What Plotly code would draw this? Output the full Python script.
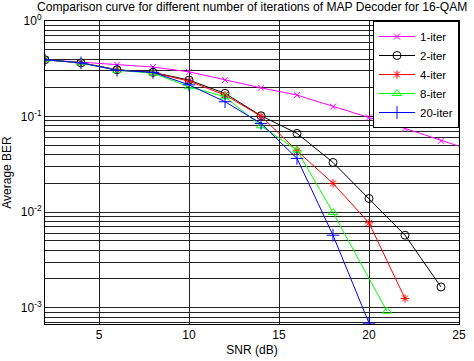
import plotly.graph_objects as go

snr_1 = [2, 4, 6, 8, 10, 12, 14, 16, 18, 20, 22, 24, 26]
ber_1 = [0.393, 0.37, 0.349, 0.33, 0.294, 0.241, 0.200, 0.168, 0.127, 0.0977, 0.0752, 0.0558, 0.0425]

snr_2 = [2, 4, 6, 8, 10, 12, 14, 16, 18, 20, 22, 24]
ber_2 = [0.393, 0.365, 0.309, 0.29, 0.241, 0.175, 0.102, 0.0667, 0.0331, 0.0139, 0.00574, 0.00165]

snr_4 = [2, 4, 6, 8, 10, 12, 14, 16, 18, 20, 22]
ber_4 = [0.393, 0.365, 0.308, 0.288, 0.235, 0.168, 0.101, 0.0439, 0.020, 0.00773, 0.00125]

snr_8 = [2, 4, 6, 8, 10, 12, 14, 16, 18, 21]
ber_8 = [0.393, 0.365, 0.305, 0.285, 0.205, 0.161, 0.080, 0.0446, 0.0099, 0.00092]

snr_20 = [2, 4, 6, 8, 10, 12, 14, 16, 18, 20]
ber_20 = [0.393, 0.365, 0.305, 0.29, 0.215, 0.143, 0.0848, 0.0365, 0.00574, 0.00069]

names = ["1-iter", "2-iter", "4-iter", "8-iter", "20-iter"]
colors = ["#ff00ff", "#000000", "#ff0000", "#00ff00", "#0000ff"]
symbols = ["x-thin-open", "circle-open", "asterisk-open", "triangle-up-open", "cross-thin-open"]
sizes = [6, 8, 7, 8, 9]

x_ticks = [5, 10, 15, 20, 25]
y_ticks = [1e-3, 1e-2, 1e-1, 1]
y_tick_text = ["10<sup>-3</sup>", "10<sup>-2</sup>", "10<sup>-1</sup>", "10<sup>0</sup>"]
minor_y = [m * 10 ** e for e in (-4, -3, -2, -1) for m in range(2, 10)]

series = [(snr_1, ber_1), (snr_2, ber_2), (snr_4, ber_4), (snr_8, ber_8), (snr_20, ber_20)]

fig = go.Figure()
for (xs, ys), n, c, s, sz in zip(series, names, colors, symbols, sizes):
    fig.add_trace(go.Scatter(
        x=xs, y=ys, name=n, mode="lines+markers",
        line=dict(color=c, width=1),
        marker=dict(symbol=s, size=sz, color=c, line=dict(color=c, width=1)),
    ))

font = "Liberation Sans, Arial, Helvetica, sans-serif"
fig.update_layout(
    width=474, height=361,
    margin=dict(l=45, r=15, t=21, b=37),
    paper_bgcolor="white", plot_bgcolor="white",
    font=dict(family=font, size=12, color="black"),
    title=dict(text="Comparison curve for different number of iterations of MAP Decoder for 16-QAM",
               x=0.532, xanchor="center", y=0.981, yanchor="middle", font=dict(size=12.1)),
    showlegend=True,
    legend=dict(x=1, y=1, xanchor="right", yanchor="top", bgcolor="white",
                bordercolor="black", borderwidth=1, font=dict(size=11.5),
                tracegroupgap=0, itemwidth=36),
    xaxis=dict(range=[2, 25], tickvals=x_ticks, showgrid=True, gridcolor="#222222", gridwidth=1,
               showline=True, linecolor="black", linewidth=1, mirror=True, zeroline=False,
               ticks="", tickfont=dict(size=12), automargin=False,
               title=dict(text="SNR (dB)", standoff=4, font=dict(size=12))),
    yaxis=dict(type="log", range=[-3.17, 0], tickvals=y_ticks, ticktext=y_tick_text,
               showgrid=True, gridcolor="#222222", gridwidth=1,
               showline=True, linecolor="black", linewidth=1, mirror=True, zeroline=False,
               ticks="", tickfont=dict(size=12), automargin=False,
               minor=dict(tickvals=minor_y, showgrid=True, gridcolor="#222222", gridwidth=1),
               title=dict(text="Average BER", standoff=8, font=dict(size=12))),
)

fig.write_html("out.html", config={"displayModeBar": False},
               post_script="document.body.style.margin='0';document.body.style.padding='0';document.body.style.overflow='hidden';")
